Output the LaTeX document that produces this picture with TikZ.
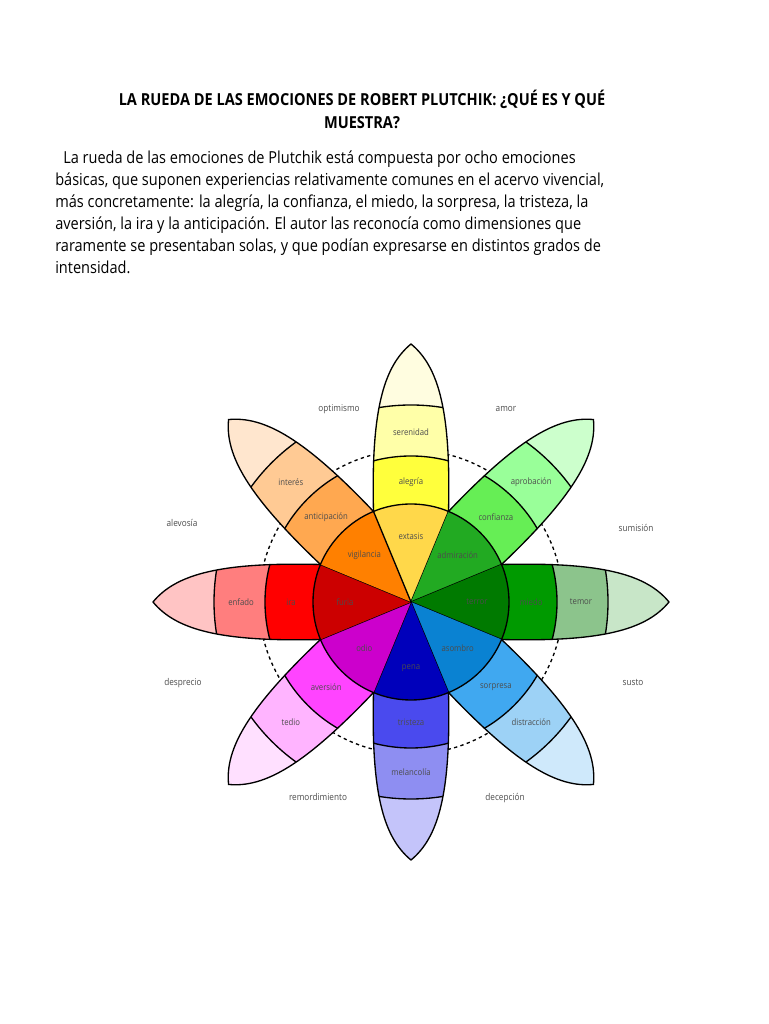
\documentclass[tikz,border=0pt]{standalone}
\usepackage{fontspec}
\setmainfont{Open Sans}[FakeStretch=0.88]
\begin{document}
\begin{tikzpicture}[x=0.75pt,y=0.75pt,
  title/.style={font=\bfseries\fontsize{12.4}{14}\selectfont,anchor=base},
  para/.style={font=\fontsize{12.4}{14}\selectfont,anchor=base west,inner sep=0},
  lbl/.style={font=\fontsize{6.6}{8}\selectfont,text=black!70,inner sep=0},
  olbl/.style={font=\fontsize{7}{8}\selectfont,text=black!70,inner sep=0},
  edge/.style={draw=black,line width=1pt}]
\useasboundingbox (0,0) rectangle (768,1024);
\fill[white] (0,0) rectangle (768,1024);
\node[title] (t1) at (362,918) {LA RUEDA DE LAS EMOCIONES DE ROBERT PLUTCHIK: ¿QUÉ ES Y QUÉ};
\node[title] (t2) at (362,895) {MUESTRA?};
\node[para] (p1) at (63,860) {La rueda de las emociones de Plutchik está compuesta por ocho emociones};
\node[para] (p2) at (55,838) {básicas, que suponen experiencias relativamente comunes en el acervo vivencial,};
\node[para] (p3) at (55,816) {más concretamente: la alegría, la confianza, el miedo, la sorpresa, la tristeza, la};
\node[para] (p4) at (55,794) {aversión, la ira y la anticipación. El autor las reconocía como dimensiones que};
\node[para] (p5) at (55,772) {raramente se presentaban solas, y que podían expresarse en distintos grados de};
\node[para] (p6) at (55,750) {intensidad.};
\begin{scope}[shift={(411,422)}]
\draw[dashed,line width=1pt,dash pattern=on 2.5pt off 2.5pt] (0,0) circle (152);
\foreach \ang/\ca/\cb/\cc/\cd/\la/\lb/\lc in {
 90/FFD84A/FFFF3C/FFFFA8/FFFDE0/extasis/alegría/serenidad,
 45/22AA22/66EE55/99FF99/CCFFCC/admiración/confianza/aprobación,
 0/007A00/009A00/8CC48C/C8E6C8/terror/miedo/temor,
 -45/0A82D2/40A8F0/9DD2F6/CFE9FB/asombro/sorpresa/distracción,
 -90/0000BB/4A4AEE/8E8EF2/C4C4FA/pena/tristeza/melancolía,
 -135/CC00CC/FF44FF/FFB4FF/FFE0FF/odio/aversión/tedio,
 180/CC0000/FF0000/FF7E7E/FFC4C4/furia/ira/enfado,
 135/FF8000/FFA850/FFCA94/FFE6CE/vigilancia/anticipación/interés}{
 \definecolor{ca}{HTML}{\ca}\definecolor{cb}{HTML}{\cb}
 \definecolor{cc}{HTML}{\cc}\definecolor{cd}{HTML}{\cd}
 \begin{scope}[rotate=\ang-90]
  \begin{scope}
   \clip (0,0) -- (37.5,90.5) .. controls (40,190) and (28,235) .. (0,258)
     .. controls (-28,235) and (-40,190) .. (-37.5,90.5) -- cycle;
   \fill[cd] (0,0) circle (262);
   \fill[cc] (0,0) circle (197);
   \fill[cb] (0,0) circle (146);
   \draw[edge] (0,0) circle (197);
   \draw[edge] (0,0) circle (146);
  \end{scope}
  \draw[edge] (37.5,90.5) .. controls (40,190) and (28,235) .. (0,258)
     .. controls (-28,235) and (-40,190) .. (-37.5,90.5);
 \end{scope}
}
\foreach \ang/\ca in {90/FFD84A,45/22AA22,0/007A00,-45/0A82D2,-90/0000BB,-135/CC00CC,180/CC0000,135/FF8000}{
 \definecolor{ca}{HTML}{\ca}
 \fill[ca] (0,0) -- (\ang-22.5:98) arc[start angle=\ang-22.5,end angle=\ang+22.5,radius=98] -- cycle;
 \draw[edge] (0,0) -- (\ang-22.5:98);
}
\draw[edge] (0,0) circle (98);
\foreach \ang/\la/\lb/\lc in {
 90/extasis/alegría/serenidad, 45/admiración/confianza/aprobación,
 0/terror/miedo/temor, -45/asombro/sorpresa/distracción,
 -90/pena/tristeza/melancolía, -135/odio/aversión/tedio,
 180/furia/ira/enfado, 135/vigilancia/anticipación/interés}{
 \node[lbl] (a\ang) at (\ang:66) {\la};
 \node[lbl] (b\ang) at (\ang:120) {\lb};
 \node[lbl] (c\ang) at (\ang:170) {\lc};
}
\end{scope}
\node[olbl] (o1) at (339,615) {optimismo};
\node[olbl] (o2) at (506,615) {amor};
\node[olbl] (o3) at (182,501) {alevosía};
\node[olbl] (o4) at (636,496) {sumisión};
\node[olbl] (o5) at (183,341) {desprecio};
\node[olbl] (o6) at (633,342) {susto};
\node[olbl] (o7) at (318,227) {remordimiento};
\node[olbl] (o8) at (505,226) {decepción};
\end{tikzpicture}
\end{document}
